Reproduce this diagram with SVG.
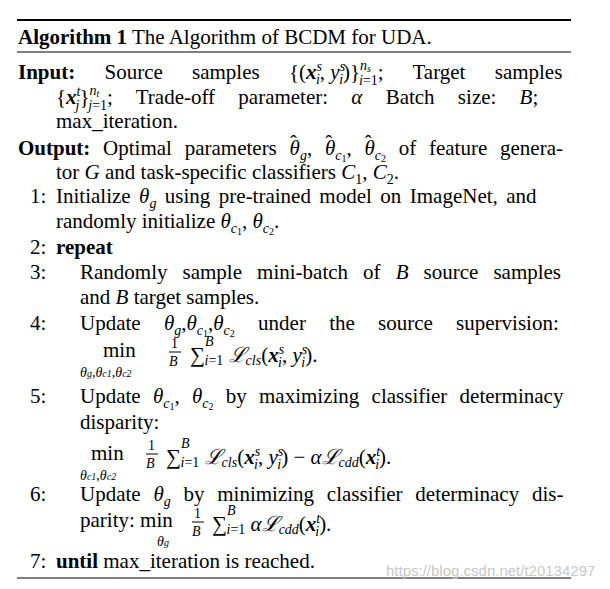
<svg xmlns="http://www.w3.org/2000/svg" width="610" height="589" viewBox="0 0 610 589">
<style>
text{font-family:"Liberation Serif","DejaVu Serif",serif;font-size:21px;fill:#000}
.b{font-weight:bold}.i{font-style:italic}.s{font-size:14px}.t{font-size:10px}
.wm{font-family:"Liberation Sans",sans-serif;font-size:15px;fill:#c8c8c8}
</style>
<rect width="610" height="589" fill="#fff"/>
<line x1="17" y1="20" x2="571" y2="20" stroke="#000" stroke-width="2"/>
<line x1="17" y1="52" x2="571" y2="52" stroke="#000" stroke-width="1.2"/>
<line x1="17" y1="578" x2="571" y2="578" stroke="#000" stroke-width="1.2"/>
<text x="18" y="44"><tspan class="b">Algorithm 1</tspan> The Algorithm of BCDM for UDA.</text>

<text x="18" y="79" word-spacing="24"><tspan class="b" word-spacing="0">Input:</tspan> Source samples {(<tspan class="i b">x</tspan><tspan class="s i" dy="-8">s</tspan><tspan class="s i" dx="-6" dy="13">i</tspan><tspan dy="-5" word-spacing="0">, </tspan><tspan class="i">y</tspan><tspan class="s i" dy="-8">s</tspan><tspan class="s i" dx="-6" dy="13">i</tspan><tspan dy="-5">)}</tspan><tspan class="s i" dy="-9">n</tspan><tspan class="t i" dy="2">s</tspan><tspan class="s i" dx="-12" dy="13">i</tspan><tspan class="s">=1</tspan><tspan dy="-6">; Target samples</tspan></text>
<text x="56" y="104" word-spacing="18">{<tspan class="i b">x</tspan><tspan class="s i" dy="-8">t</tspan><tspan class="s i" dx="-5" dy="14">j</tspan><tspan dy="-6">}</tspan><tspan class="s i" dy="-9">n</tspan><tspan class="t i" dy="2">t</tspan><tspan class="s i" dx="-11" dy="13">j</tspan><tspan class="s">=1</tspan><tspan dy="-6">; Trade-off parameter: </tspan><tspan class="i">α</tspan> Batch size: <tspan class="i">B</tspan>;</text>
<text x="56" y="128">max_iteration.</text>

<text x="18" y="155" word-spacing="7.5"><tspan class="b" word-spacing="0">Output:</tspan> Optimal parameters <tspan class="i">θ</tspan><tspan dx="-10" dy="-5">ˆ</tspan><tspan class="s i" dx="3" dy="10">g</tspan><tspan dy="-5">, </tspan><tspan class="i">θ</tspan><tspan dx="-10" dy="-5">ˆ</tspan><tspan class="s i" dx="3" dy="10">c</tspan><tspan class="t" dy="2">1</tspan><tspan dy="-7">, </tspan><tspan class="i">θ</tspan><tspan dx="-10" dy="-5">ˆ</tspan><tspan class="s i" dx="3" dy="10">c</tspan><tspan class="t" dy="2">2</tspan><tspan dy="-7"> of feature genera-</tspan></text>
<text x="56" y="179">tor <tspan class="i">G</tspan> and task-specific classifiers <tspan class="i">C</tspan><tspan class="s" dy="5">1</tspan><tspan dy="-5">, </tspan><tspan class="i">C</tspan><tspan class="s" dy="5">2</tspan><tspan dy="-5">.</tspan></text>

<text x="30" y="203">1:</text>
<text x="56" y="203" word-spacing="3.2">Initialize <tspan class="i">θ</tspan><tspan class="s i" dy="5">g</tspan><tspan dy="-5"> using pre-trained model on ImageNet, and</tspan></text>
<text x="56" y="228">randomly initialize <tspan class="i">θ</tspan><tspan class="s i" dy="5">c</tspan><tspan class="t" dy="2">1</tspan><tspan dy="-7">, </tspan><tspan class="i">θ</tspan><tspan class="s i" dy="5">c</tspan><tspan class="t" dy="2">2</tspan><tspan dy="-7">.</tspan></text>
<text x="30" y="254">2:</text>
<text x="56" y="254" class="b">repeat</text>
<text x="30" y="279">3:</text>
<text x="80" y="279" word-spacing="9.8">Randomly sample mini-batch of <tspan class="i">B</tspan> source samples</text>
<text x="80" y="304">and <tspan class="i">B</tspan> target samples.</text>

<text x="30" y="330">4:</text>
<text x="80" y="330" word-spacing="18">Update <tspan class="i">θ</tspan><tspan class="s i" dy="5">g</tspan><tspan dy="-5">,</tspan><tspan class="i">θ</tspan><tspan class="s i" dy="5">c</tspan><tspan class="t" dy="2">1</tspan><tspan dy="-7">,</tspan><tspan class="i">θ</tspan><tspan class="s i" dy="5">c</tspan><tspan class="t" dy="2">2</tspan><tspan dy="-7"> under the source supervision:</tspan></text>
<text x="103" y="357">min</text>
<text x="80" y="377" class="s i">θ<tspan class="t">g</tspan>,θ<tspan class="t">c1</tspan>,θ<tspan class="t">c2</tspan></text>
<text x="171" y="348" class="s">1</text><line x1="169" y1="352" x2="181" y2="352" stroke="#000"/><text x="169" y="366" class="s i">B</text>
<text x="190" y="362" font-size="24">∑<tspan class="s i" dy="-16">B</tspan><tspan class="s i" dx="-9" dy="19">i</tspan><tspan class="s">=1</tspan><tspan class="i" font-size="21" dy="-3"> ℒ</tspan><tspan class="s i" dy="3">cls</tspan><tspan font-size="21" dy="-3">(</tspan><tspan class="i b" font-size="21">x</tspan><tspan class="s i" dy="-8">s</tspan><tspan class="s i" dx="-6" dy="13">i</tspan><tspan font-size="21" dy="-5">, </tspan><tspan class="i" font-size="21">y</tspan><tspan class="s i" dy="-8">s</tspan><tspan class="s i" dx="-6" dy="13">i</tspan><tspan font-size="21" dy="-5">).</tspan></text>

<text x="30" y="403">5:</text>
<text x="80" y="403" word-spacing="7">Update <tspan class="i">θ</tspan><tspan class="s i" dy="5">c</tspan><tspan class="t" dy="2">1</tspan><tspan dy="-7">, </tspan><tspan class="i">θ</tspan><tspan class="s i" dy="5">c</tspan><tspan class="t" dy="2">2</tspan><tspan dy="-7"> by maximizing classifier determinacy</tspan></text>
<text x="80" y="429">disparity:</text>
<text x="91" y="460">min</text>
<text x="80" y="480" class="s i">θ<tspan class="t">c1</tspan>,θ<tspan class="t">c2</tspan></text>
<text x="148" y="450" class="s">1</text><line x1="146" y1="454" x2="158" y2="454" stroke="#000"/><text x="146" y="468" class="s i">B</text>
<text x="166" y="464" font-size="24">∑<tspan class="s i" dy="-16">B</tspan><tspan class="s i" dx="-9" dy="19">i</tspan><tspan class="s">=1</tspan><tspan class="i" font-size="21" dy="-3"> ℒ</tspan><tspan class="s i" dy="3">cls</tspan><tspan font-size="21" dy="-3">(</tspan><tspan class="i b" font-size="21">x</tspan><tspan class="s i" dy="-8">s</tspan><tspan class="s i" dx="-6" dy="13">i</tspan><tspan font-size="21" dy="-5">, </tspan><tspan class="i" font-size="21">y</tspan><tspan class="s i" dy="-8">s</tspan><tspan class="s i" dx="-6" dy="13">i</tspan><tspan font-size="21" dy="-5">) − </tspan><tspan class="i" font-size="21">αℒ</tspan><tspan class="s i" dy="3">cdd</tspan><tspan font-size="21" dy="-3">(</tspan><tspan class="i b" font-size="21">x</tspan><tspan class="s i" dy="-8">t</tspan><tspan class="s i" dx="-5" dy="13">i</tspan><tspan font-size="21" dy="-5">).</tspan></text>

<text x="30" y="501">6:</text>
<text x="80" y="501" word-spacing="7.5">Update <tspan class="i">θ</tspan><tspan class="s i" dy="5">g</tspan><tspan dy="-5"> by minimizing classifier determinacy dis-</tspan></text>
<text x="80" y="527">parity: min</text>
<text x="157" y="546" class="s i">θ<tspan class="t">g</tspan></text>
<text x="194" y="518" class="s">1</text><line x1="192" y1="522" x2="204" y2="522" stroke="#000"/><text x="192" y="536" class="s i">B</text>
<text x="212" y="531" font-size="24">∑<tspan class="s i" dy="-16">B</tspan><tspan class="s i" dx="-9" dy="19">i</tspan><tspan class="s">=1</tspan><tspan class="i" font-size="21" dy="-3"> αℒ</tspan><tspan class="s i" dy="3">cdd</tspan><tspan font-size="21" dy="-3">(</tspan><tspan class="i b" font-size="21">x</tspan><tspan class="s i" dy="-8">t</tspan><tspan class="s i" dx="-5" dy="13">i</tspan><tspan font-size="21" dy="-5">).</tspan></text>

<text x="30" y="568">7:</text>
<text x="56" y="568"><tspan class="b">until</tspan> max_iteration is reached.</text>
<text x="386" y="576" class="wm">https://blog.csdn.net/t20134297</text>
</svg>
